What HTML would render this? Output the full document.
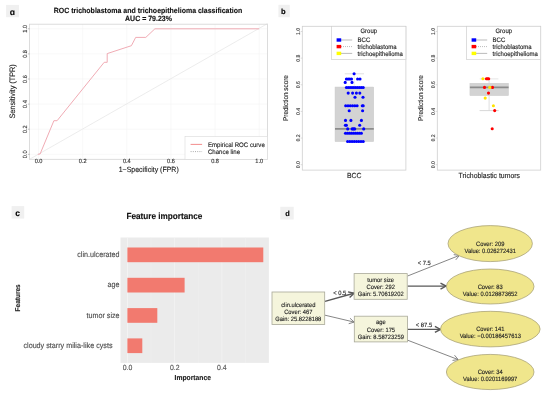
<!DOCTYPE html>
<html><head><meta charset="utf-8"><title>figure</title>
<style>
html,body{margin:0;padding:0;background:#fff;width:550px;height:397px;overflow:hidden;}
svg{display:block;font-family:"Liberation Sans",sans-serif;will-change:transform;text-rendering:geometricPrecision;}
</style></head>
<body>

<svg width="550" height="397" viewBox="0 0 550 397">

<rect width="550" height="397" fill="#fff"/>

<rect x="6.1" y="4.9" width="12.9" height="12.3" fill="#f0f0f0"/>
<text class="nk" x="12.4" y="14.6" font-size="8.6" font-weight="bold" text-anchor="middle" fill="#000" stroke="#000" stroke-width="0.12">ɑ</text>

<rect x="278.4" y="4.8" width="11.4" height="12.4" fill="#f0f0f0"/>
<text class="nk" x="283.3" y="13.8" font-size="7.6" font-weight="bold" text-anchor="middle" fill="#000" stroke="#000" stroke-width="0.12">b</text>

<rect x="11.6" y="206.1" width="12.6" height="12.5" fill="#f0f0f0"/>
<text class="nk" x="17.6" y="215.9" font-size="8.6" font-weight="bold" text-anchor="middle" fill="#000" stroke="#000" stroke-width="0.12">c</text>

<rect x="280.3" y="206.8" width="13.4" height="12.7" fill="#f0f0f0"/>
<text class="nk" x="287.5" y="215.8" font-size="7.4" font-weight="bold" text-anchor="middle" fill="#000" stroke="#000" stroke-width="0.12">d</text>

<g id="pa">
<text transform="translate(148,12.8) scale(1,1.08)" font-size="7" font-weight="bold" text-anchor="middle" fill="#111" stroke="#111" stroke-width="0.12">ROC trichoblastoma and trichoepithelioma classification</text>
<text transform="translate(148.5,21.3) scale(1,1.08)" font-size="7" font-weight="bold" text-anchor="middle" fill="#111" stroke="#111" stroke-width="0.12">AUC = 79.23%</text>
<line x1="38.60" y1="24.2" x2="38.60" y2="159.3" stroke="#f4f4f4" stroke-width="0.6"/>
<line x1="29.5" y1="154.30" x2="267.5" y2="154.30" stroke="#f4f4f4" stroke-width="0.6"/>
<line x1="82.72" y1="24.2" x2="82.72" y2="159.3" stroke="#f4f4f4" stroke-width="0.6"/>
<line x1="29.5" y1="129.20" x2="267.5" y2="129.20" stroke="#f4f4f4" stroke-width="0.6"/>
<line x1="126.84" y1="24.2" x2="126.84" y2="159.3" stroke="#f4f4f4" stroke-width="0.6"/>
<line x1="29.5" y1="104.10" x2="267.5" y2="104.10" stroke="#f4f4f4" stroke-width="0.6"/>
<line x1="170.96" y1="24.2" x2="170.96" y2="159.3" stroke="#f4f4f4" stroke-width="0.6"/>
<line x1="29.5" y1="79.00" x2="267.5" y2="79.00" stroke="#f4f4f4" stroke-width="0.6"/>
<line x1="215.08" y1="24.2" x2="215.08" y2="159.3" stroke="#f4f4f4" stroke-width="0.6"/>
<line x1="29.5" y1="53.90" x2="267.5" y2="53.90" stroke="#f4f4f4" stroke-width="0.6"/>
<line x1="259.20" y1="24.2" x2="259.20" y2="159.3" stroke="#f4f4f4" stroke-width="0.6"/>
<line x1="29.5" y1="28.80" x2="267.5" y2="28.80" stroke="#f4f4f4" stroke-width="0.6"/>
<line x1="29.5" y1="159.3" x2="267.5" y2="23.6" stroke="#eaeaea" stroke-width="0.9"/>
<polyline fill="none" stroke="#efa6b0" stroke-width="0.95" points="37.8,154.3 40.1,154.0 53.9,120.7 57.1,120.7 104.2,62.3 107.2,62.3 107.2,53.6 131.4,45.7 135.7,37.4 145.8,37.4 154.9,28.8 259.2,28.8"/>
<rect x="29.5" y="24.2" width="238" height="135.1" fill="none" stroke="#d4d4d4" stroke-width="0.8"/>
<rect x="185" y="136.5" width="82.5" height="22.8" fill="#fff" stroke="#d9d9d9" stroke-width="0.6"/>
<line x1="190.6" y1="144.4" x2="202.1" y2="144.4" stroke="#f08080" stroke-width="0.9"/>
<line x1="190.6" y1="151.6" x2="202.1" y2="151.6" stroke="#888" stroke-width="0.7" stroke-dasharray="1,1.2"/>
<text transform="translate(207.9,146.8) scale(1,1.08)" font-size="6.1" fill="#222" stroke="#222" stroke-width="0.12">Empirical ROC curve</text>
<text transform="translate(207.9,153.9) scale(1,1.08)" font-size="6.1" fill="#222" stroke="#222" stroke-width="0.12">Chance line</text>
<line x1="28.1" y1="154.30" x2="29.5" y2="154.30" stroke="#888" stroke-width="0.6"/>
<line x1="28.1" y1="129.20" x2="29.5" y2="129.20" stroke="#888" stroke-width="0.6"/>
<line x1="28.1" y1="104.10" x2="29.5" y2="104.10" stroke="#888" stroke-width="0.6"/>
<line x1="28.1" y1="79.00" x2="29.5" y2="79.00" stroke="#888" stroke-width="0.6"/>
<line x1="28.1" y1="53.90" x2="29.5" y2="53.90" stroke="#888" stroke-width="0.6"/>
<line x1="28.1" y1="28.80" x2="29.5" y2="28.80" stroke="#888" stroke-width="0.6"/>
<text transform="translate(38.60,163.4) scale(1,1.08)" font-size="5.6" text-anchor="middle" fill="#333" stroke="#333" stroke-width="0.12">0.0</text>
<text transform="translate(27.2,154.30) rotate(-90) scale(1,1.08)" font-size="5.6" text-anchor="middle" fill="#333" stroke="#333" stroke-width="0.12">0.0</text>
<text transform="translate(82.72,163.4) scale(1,1.08)" font-size="5.6" text-anchor="middle" fill="#333" stroke="#333" stroke-width="0.12">0.2</text>
<text transform="translate(27.2,129.20) rotate(-90) scale(1,1.08)" font-size="5.6" text-anchor="middle" fill="#333" stroke="#333" stroke-width="0.12">0.2</text>
<text transform="translate(126.84,163.4) scale(1,1.08)" font-size="5.6" text-anchor="middle" fill="#333" stroke="#333" stroke-width="0.12">0.4</text>
<text transform="translate(27.2,104.10) rotate(-90) scale(1,1.08)" font-size="5.6" text-anchor="middle" fill="#333" stroke="#333" stroke-width="0.12">0.4</text>
<text transform="translate(170.96,163.4) scale(1,1.08)" font-size="5.6" text-anchor="middle" fill="#333" stroke="#333" stroke-width="0.12">0.6</text>
<text transform="translate(27.2,79.00) rotate(-90) scale(1,1.08)" font-size="5.6" text-anchor="middle" fill="#333" stroke="#333" stroke-width="0.12">0.6</text>
<text transform="translate(215.08,163.4) scale(1,1.08)" font-size="5.6" text-anchor="middle" fill="#333" stroke="#333" stroke-width="0.12">0.8</text>
<text transform="translate(27.2,53.90) rotate(-90) scale(1,1.08)" font-size="5.6" text-anchor="middle" fill="#333" stroke="#333" stroke-width="0.12">0.8</text>
<text transform="translate(259.20,163.4) scale(1,1.08)" font-size="5.6" text-anchor="middle" fill="#333" stroke="#333" stroke-width="0.12">1.0</text>
<text transform="translate(27.2,28.80) rotate(-90) scale(1,1.08)" font-size="5.6" text-anchor="middle" fill="#333" stroke="#333" stroke-width="0.12">1.0</text>
<text transform="translate(148.7,172.2) scale(1,1.08)" font-size="7" text-anchor="middle" fill="#222" stroke="#222" stroke-width="0.12">1−Specificity (FPR)</text>
<text transform="translate(15.2,91.4) rotate(-90) scale(1,1.08)" font-size="7.3" text-anchor="middle" fill="#222" stroke="#222" stroke-width="0.12">Sensitivity (TPR)</text>
</g>

<rect x="302.3" y="26.3" width="103.6" height="143.8" fill="none" stroke="#cfcfcf" stroke-width="0.8"/>
<line x1="300.8" y1="164.70" x2="302.3" y2="164.70" stroke="#bbb" stroke-width="0.5"/>
<text transform="translate(300.1,164.70) rotate(-90) scale(1,1.08)" font-size="5.1" text-anchor="middle" fill="#444" stroke="#444" stroke-width="0.12">0.0</text>
<line x1="300.8" y1="138.06" x2="302.3" y2="138.06" stroke="#bbb" stroke-width="0.5"/>
<text transform="translate(300.1,138.06) rotate(-90) scale(1,1.08)" font-size="5.1" text-anchor="middle" fill="#444" stroke="#444" stroke-width="0.12">0.2</text>
<line x1="300.8" y1="111.42" x2="302.3" y2="111.42" stroke="#bbb" stroke-width="0.5"/>
<text transform="translate(300.1,111.42) rotate(-90) scale(1,1.08)" font-size="5.1" text-anchor="middle" fill="#444" stroke="#444" stroke-width="0.12">0.4</text>
<line x1="300.8" y1="84.78" x2="302.3" y2="84.78" stroke="#bbb" stroke-width="0.5"/>
<text transform="translate(300.1,84.78) rotate(-90) scale(1,1.08)" font-size="5.1" text-anchor="middle" fill="#444" stroke="#444" stroke-width="0.12">0.6</text>
<line x1="300.8" y1="58.14" x2="302.3" y2="58.14" stroke="#bbb" stroke-width="0.5"/>
<text transform="translate(300.1,58.14) rotate(-90) scale(1,1.08)" font-size="5.1" text-anchor="middle" fill="#444" stroke="#444" stroke-width="0.12">0.8</text>
<line x1="300.8" y1="31.50" x2="302.3" y2="31.50" stroke="#bbb" stroke-width="0.5"/>
<text transform="translate(300.1,31.50) rotate(-90) scale(1,1.08)" font-size="5.1" text-anchor="middle" fill="#444" stroke="#444" stroke-width="0.12">1.0</text>
<text transform="translate(287.9,98) rotate(-90) scale(1,1.08)" font-size="6.4" text-anchor="middle" fill="#222" stroke="#222" stroke-width="0.12">Prediction score</text>
<text transform="translate(354.3,177.8) scale(1,1.08)" font-size="6.9" text-anchor="middle" fill="#222" stroke="#222" stroke-width="0.12">BCC</text>
<rect x="331.5" y="26.3" width="74.4" height="33.3" fill="#fff" stroke="#cfcfcf" stroke-width="0.7"/>
<text transform="translate(368.8,33.4) scale(1,1.08)" font-size="6" text-anchor="middle" fill="#222" stroke="#222" stroke-width="0.12">Group</text>
<line x1="341" y1="40" x2="352.2" y2="40" stroke="#aaa" stroke-width="0.8"/>
<rect x="336.6" y="38.3" width="4.6" height="3.4" fill="#0000ff"/>
<text transform="translate(357.6,42.1) scale(1,1.08)" font-size="6" fill="#222" stroke="#222" stroke-width="0.12">BCC</text>
<line x1="341" y1="46.6" x2="352.2" y2="46.6" stroke="#aaa" stroke-width="0.8" stroke-dasharray="1,1"/>
<rect x="336.6" y="44.9" width="4.6" height="3.4" fill="#ff0000"/>
<text transform="translate(357.6,48.7) scale(1,1.08)" font-size="6" fill="#222" stroke="#222" stroke-width="0.12">trichoblastoma</text>
<line x1="341" y1="53.4" x2="352.2" y2="53.4" stroke="#aaa" stroke-width="0.8"/>
<rect x="336.6" y="51.699999999999996" width="4.6" height="3.4" fill="#ffff00"/>
<text transform="translate(357.6,55.5) scale(1,1.08)" font-size="6" fill="#222" stroke="#222" stroke-width="0.12">trichoepithelioma</text>
<rect x="437.3" y="26.3" width="103.4" height="143.8" fill="none" stroke="#cfcfcf" stroke-width="0.8"/>
<line x1="435.8" y1="164.70" x2="437.3" y2="164.70" stroke="#bbb" stroke-width="0.5"/>
<text transform="translate(435.1,164.70) rotate(-90) scale(1,1.08)" font-size="5.1" text-anchor="middle" fill="#444" stroke="#444" stroke-width="0.12">0.0</text>
<line x1="435.8" y1="138.06" x2="437.3" y2="138.06" stroke="#bbb" stroke-width="0.5"/>
<text transform="translate(435.1,138.06) rotate(-90) scale(1,1.08)" font-size="5.1" text-anchor="middle" fill="#444" stroke="#444" stroke-width="0.12">0.2</text>
<line x1="435.8" y1="111.42" x2="437.3" y2="111.42" stroke="#bbb" stroke-width="0.5"/>
<text transform="translate(435.1,111.42) rotate(-90) scale(1,1.08)" font-size="5.1" text-anchor="middle" fill="#444" stroke="#444" stroke-width="0.12">0.4</text>
<line x1="435.8" y1="84.78" x2="437.3" y2="84.78" stroke="#bbb" stroke-width="0.5"/>
<text transform="translate(435.1,84.78) rotate(-90) scale(1,1.08)" font-size="5.1" text-anchor="middle" fill="#444" stroke="#444" stroke-width="0.12">0.6</text>
<line x1="435.8" y1="58.14" x2="437.3" y2="58.14" stroke="#bbb" stroke-width="0.5"/>
<text transform="translate(435.1,58.14) rotate(-90) scale(1,1.08)" font-size="5.1" text-anchor="middle" fill="#444" stroke="#444" stroke-width="0.12">0.8</text>
<line x1="435.8" y1="31.50" x2="437.3" y2="31.50" stroke="#bbb" stroke-width="0.5"/>
<text transform="translate(435.1,31.50) rotate(-90) scale(1,1.08)" font-size="5.1" text-anchor="middle" fill="#444" stroke="#444" stroke-width="0.12">1.0</text>
<text transform="translate(422.9,98) rotate(-90) scale(1,1.08)" font-size="6.4" text-anchor="middle" fill="#222" stroke="#222" stroke-width="0.12">Prediction score</text>
<text transform="translate(489.3,177.8) scale(1,1.08)" font-size="6.9" text-anchor="middle" fill="#222" stroke="#222" stroke-width="0.12">Trichoblastic tumors</text>
<rect x="466.5" y="26.3" width="74.2" height="33.3" fill="#fff" stroke="#cfcfcf" stroke-width="0.7"/>
<text transform="translate(503.8,33.4) scale(1,1.08)" font-size="6" text-anchor="middle" fill="#222" stroke="#222" stroke-width="0.12">Group</text>
<line x1="476" y1="40" x2="487.2" y2="40" stroke="#aaa" stroke-width="0.8"/>
<rect x="471.6" y="38.3" width="4.6" height="3.4" fill="#0000ff"/>
<text transform="translate(492.6,42.1) scale(1,1.08)" font-size="6" fill="#222" stroke="#222" stroke-width="0.12">BCC</text>
<line x1="476" y1="46.6" x2="487.2" y2="46.6" stroke="#aaa" stroke-width="0.8" stroke-dasharray="1,1"/>
<rect x="471.6" y="44.9" width="4.6" height="3.4" fill="#ff0000"/>
<text transform="translate(492.6,48.7) scale(1,1.08)" font-size="6" fill="#222" stroke="#222" stroke-width="0.12">trichoblastoma</text>
<line x1="476" y1="53.4" x2="487.2" y2="53.4" stroke="#aaa" stroke-width="0.8"/>
<rect x="471.6" y="51.699999999999996" width="4.6" height="3.4" fill="#ffff00"/>
<text transform="translate(492.6,55.5) scale(1,1.08)" font-size="6" fill="#222" stroke="#222" stroke-width="0.12">trichoepithelioma</text>
<line x1="354.3" y1="73.8" x2="354.3" y2="87" stroke="#e4e4e4" stroke-width="0.6"/>
<line x1="344.8" y1="73.8" x2="364" y2="73.8" stroke="#ddd" stroke-width="0.9"/>
<rect x="335" y="87" width="38.8" height="54.7" fill="#d3d3d3" stroke="#cacaca" stroke-width="0.4"/>
<line x1="335" y1="128.9" x2="373.8" y2="128.9" stroke="#8c8c8c" stroke-width="1.6"/>
<circle cx="354.10" cy="73.8" r="1.55" fill="#0000ff"/>
<circle cx="346.40" cy="79" r="1.55" fill="#0000ff"/>
<circle cx="348.10" cy="79" r="1.55" fill="#0000ff"/>
<circle cx="349.80" cy="79" r="1.55" fill="#0000ff"/>
<circle cx="351.50" cy="79" r="1.55" fill="#0000ff"/>
<circle cx="357.60" cy="79" r="1.55" fill="#0000ff"/>
<circle cx="360.00" cy="79" r="1.55" fill="#0000ff"/>
<circle cx="345.20" cy="82.4" r="1.55" fill="#0000ff"/>
<circle cx="352.00" cy="82.4" r="1.55" fill="#0000ff"/>
<circle cx="346.40" cy="87.5" r="1.55" fill="#0000ff"/>
<circle cx="348.27" cy="87.5" r="1.55" fill="#0000ff"/>
<circle cx="350.13" cy="87.5" r="1.55" fill="#0000ff"/>
<circle cx="352.00" cy="87.5" r="1.55" fill="#0000ff"/>
<circle cx="353.87" cy="87.5" r="1.55" fill="#0000ff"/>
<circle cx="355.73" cy="87.5" r="1.55" fill="#0000ff"/>
<circle cx="357.60" cy="87.5" r="1.55" fill="#0000ff"/>
<circle cx="359.47" cy="87.5" r="1.55" fill="#0000ff"/>
<circle cx="361.33" cy="87.5" r="1.55" fill="#0000ff"/>
<circle cx="363.20" cy="87.5" r="1.55" fill="#0000ff"/>
<circle cx="348.20" cy="93.1" r="1.55" fill="#0000ff"/>
<circle cx="352.60" cy="93.1" r="1.55" fill="#0000ff"/>
<circle cx="356.40" cy="93.1" r="1.55" fill="#0000ff"/>
<circle cx="359.80" cy="93.1" r="1.55" fill="#0000ff"/>
<circle cx="355.00" cy="97.3" r="1.55" fill="#0000ff"/>
<circle cx="363.00" cy="97.3" r="1.55" fill="#0000ff"/>
<circle cx="345.70" cy="105.8" r="1.55" fill="#0000ff"/>
<circle cx="347.98" cy="105.8" r="1.55" fill="#0000ff"/>
<circle cx="350.26" cy="105.8" r="1.55" fill="#0000ff"/>
<circle cx="352.54" cy="105.8" r="1.55" fill="#0000ff"/>
<circle cx="354.82" cy="105.8" r="1.55" fill="#0000ff"/>
<circle cx="357.10" cy="105.8" r="1.55" fill="#0000ff"/>
<circle cx="362.30" cy="105.8" r="1.55" fill="#0000ff"/>
<circle cx="363.20" cy="105.8" r="1.55" fill="#0000ff"/>
<circle cx="349.20" cy="110.7" r="1.55" fill="#0000ff"/>
<circle cx="362.60" cy="110.7" r="1.55" fill="#0000ff"/>
<circle cx="345.50" cy="120.4" r="1.55" fill="#0000ff"/>
<circle cx="350.90" cy="120.4" r="1.55" fill="#0000ff"/>
<circle cx="361.40" cy="120.4" r="1.55" fill="#0000ff"/>
<circle cx="345.40" cy="125.2" r="1.55" fill="#0000ff"/>
<circle cx="346.40" cy="125.2" r="1.55" fill="#0000ff"/>
<circle cx="359.70" cy="125.2" r="1.55" fill="#0000ff"/>
<circle cx="347.70" cy="128.9" r="1.55" fill="#0000ff"/>
<circle cx="352.20" cy="128.9" r="1.55" fill="#0000ff"/>
<circle cx="353.50" cy="128.9" r="1.55" fill="#0000ff"/>
<circle cx="354.70" cy="128.9" r="1.55" fill="#0000ff"/>
<circle cx="363.70" cy="128.9" r="1.55" fill="#0000ff"/>
<circle cx="345.50" cy="133.2" r="1.55" fill="#0000ff"/>
<circle cx="347.49" cy="133.2" r="1.55" fill="#0000ff"/>
<circle cx="349.48" cy="133.2" r="1.55" fill="#0000ff"/>
<circle cx="351.46" cy="133.2" r="1.55" fill="#0000ff"/>
<circle cx="353.45" cy="133.2" r="1.55" fill="#0000ff"/>
<circle cx="355.44" cy="133.2" r="1.55" fill="#0000ff"/>
<circle cx="357.42" cy="133.2" r="1.55" fill="#0000ff"/>
<circle cx="359.41" cy="133.2" r="1.55" fill="#0000ff"/>
<circle cx="361.40" cy="133.2" r="1.55" fill="#0000ff"/>
<circle cx="347.60" cy="141.5" r="1.55" fill="#0000ff"/>
<circle cx="349.83" cy="141.5" r="1.55" fill="#0000ff"/>
<circle cx="352.06" cy="141.5" r="1.55" fill="#0000ff"/>
<circle cx="354.29" cy="141.5" r="1.55" fill="#0000ff"/>
<circle cx="356.51" cy="141.5" r="1.55" fill="#0000ff"/>
<circle cx="358.74" cy="141.5" r="1.55" fill="#0000ff"/>
<circle cx="360.97" cy="141.5" r="1.55" fill="#0000ff"/>
<circle cx="363.20" cy="141.5" r="1.55" fill="#0000ff"/>
<line x1="489.1" y1="78.9" x2="489.1" y2="110.6" stroke="#d8d8d8" stroke-width="0.8"/>
<line x1="479.7" y1="78.9" x2="498.4" y2="78.9" stroke="#e2e2e2" stroke-width="0.9"/>
<line x1="479.6" y1="110.6" x2="498.7" y2="110.6" stroke="#d2d2d2" stroke-width="0.9"/>
<rect x="469.9" y="83.2" width="38.7" height="12.5" fill="#d3d3d3" stroke="#cacaca" stroke-width="0.4"/>
<line x1="469.9" y1="87.4" x2="508.6" y2="87.4" stroke="#8c8c8c" stroke-width="1.6"/>
<circle cx="482.90" cy="78.8" r="1.55" fill="#ffe400"/>
<circle cx="486.40" cy="78.8" r="1.55" fill="#ff0000"/>
<circle cx="487.60" cy="78.8" r="1.55" fill="#ff0000"/>
<circle cx="488.70" cy="78.8" r="1.55" fill="#ff0000"/>
<circle cx="484.50" cy="87.4" r="1.55" fill="#ff0000"/>
<circle cx="492.50" cy="87.4" r="1.55" fill="#ff0000"/>
<circle cx="489.80" cy="87.4" r="1.55" fill="#ffe400"/>
<circle cx="488.50" cy="93.1" r="1.55" fill="#ff0000"/>
<circle cx="485.20" cy="98.1" r="1.55" fill="#ffe400"/>
<circle cx="493.40" cy="105.8" r="1.55" fill="#ffe400"/>
<circle cx="494.70" cy="110.6" r="1.55" fill="#ff0000"/>
<circle cx="492.20" cy="128.8" r="1.55" fill="#ff0000"/>
<g id="pc">
<text transform="translate(126.4,218.9) scale(1,1.08)" font-size="8.2" font-weight="bold" fill="#111" stroke="#111" stroke-width="0.12">Feature importance</text>
<rect x="120.5" y="237.5" width="148.4" height="125.4" fill="#ebebeb"/>
<line x1="151.10" y1="237.6" x2="151.10" y2="362.9" stroke="#f2f2f2" stroke-width="0.4"/>
<line x1="198.30" y1="237.6" x2="198.30" y2="362.9" stroke="#f2f2f2" stroke-width="0.4"/>
<line x1="245.50" y1="237.6" x2="245.50" y2="362.9" stroke="#f2f2f2" stroke-width="0.4"/>
<line x1="127.50" y1="237.6" x2="127.50" y2="362.9" stroke="#f7f7f7" stroke-width="0.7"/>
<line x1="174.70" y1="237.6" x2="174.70" y2="362.9" stroke="#f7f7f7" stroke-width="0.7"/>
<line x1="221.90" y1="237.6" x2="221.90" y2="362.9" stroke="#f7f7f7" stroke-width="0.7"/>
<rect x="127.4" y="247.50" width="135.89" height="14.7" fill="#f27a6f"/>
<text transform="translate(119.6,256.9) scale(1,1.08)" font-size="7.2" text-anchor="end" fill="#4d4d4d" stroke="#4d4d4d" stroke-width="0.12">clin.ulcerated</text>
<rect x="127.4" y="277.80" width="57.21" height="14.7" fill="#f27a6f"/>
<text transform="translate(119.6,287.2) scale(1,1.08)" font-size="7.2" text-anchor="end" fill="#4d4d4d" stroke="#4d4d4d" stroke-width="0.12">age</text>
<rect x="127.4" y="308.10" width="29.91" height="14.7" fill="#f27a6f"/>
<text transform="translate(119.6,317.5) scale(1,1.08)" font-size="7.2" text-anchor="end" fill="#4d4d4d" stroke="#4d4d4d" stroke-width="0.12">tumor size</text>
<rect x="127.4" y="338.40" width="14.90" height="14.7" fill="#f27a6f"/>
<text transform="translate(112.5,347.8) scale(1,1.08)" font-size="7.2" text-anchor="end" fill="#4d4d4d" stroke="#4d4d4d" stroke-width="0.12">cloudy starry milia-like cysts</text>
<text transform="translate(127.50,369.5) scale(1,1.08)" font-size="6.9" text-anchor="middle" fill="#555" stroke="#555" stroke-width="0.12">0.0</text>
<text transform="translate(174.70,369.5) scale(1,1.08)" font-size="6.9" text-anchor="middle" fill="#555" stroke="#555" stroke-width="0.12">0.2</text>
<text transform="translate(221.90,369.5) scale(1,1.08)" font-size="6.9" text-anchor="middle" fill="#555" stroke="#555" stroke-width="0.12">0.4</text>
<text transform="translate(192.8,379.5) scale(1,1.08)" font-size="6.75" font-weight="bold" text-anchor="middle" fill="#222" stroke="#222" stroke-width="0.12">Importance</text>
<text transform="translate(19.5,297.9) rotate(-90) scale(1,1.08)" font-size="6.5" font-weight="bold" text-anchor="middle" fill="#222" stroke="#222" stroke-width="0.12">Features</text>
</g>

<g id="pd">
<line x1="325" y1="301.4" x2="353.91" y2="293.28" stroke="#585858" stroke-width="1.4"/>
<polyline fill="none" stroke="#585858" stroke-width="1.4" stroke-linejoin="miter" points="349.62,297.60 354.20,293.20 348.00,291.83"/>
<line x1="325" y1="315.2" x2="353.91" y2="322.03" stroke="#707070" stroke-width="0.85"/>
<polyline fill="none" stroke="#707070" stroke-width="0.85" stroke-linejoin="miter" points="348.69,323.68 354.20,322.10 349.98,318.23"/>
<line x1="407.6" y1="276" x2="459.12" y2="255.51" stroke="#707070" stroke-width="0.85"/>
<polyline fill="none" stroke="#707070" stroke-width="0.85" stroke-linejoin="miter" points="455.79,259.85 459.40,255.40 453.72,254.65"/>
<line x1="407.6" y1="286.1" x2="445.80" y2="286.10" stroke="#585858" stroke-width="1.4"/>
<polyline fill="none" stroke="#585858" stroke-width="1.4" stroke-linejoin="miter" points="440.50,289.10 446.10,286.10 440.50,283.10"/>
<line x1="407.6" y1="329.4" x2="440.20" y2="329.40" stroke="#585858" stroke-width="1.4"/>
<polyline fill="none" stroke="#585858" stroke-width="1.4" stroke-linejoin="miter" points="434.90,332.40 440.50,329.40 434.90,326.40"/>
<line x1="407.6" y1="340.2" x2="457.92" y2="359.49" stroke="#707070" stroke-width="0.85"/>
<polyline fill="none" stroke="#707070" stroke-width="0.85" stroke-linejoin="miter" points="452.53,360.42 458.20,359.60 454.53,355.20"/>
<rect x="272" y="292" width="52.7" height="32.5" fill="#f5f5dc" stroke="#a8a898" stroke-width="0.8"/>
<text transform="translate(298.3,306.75) scale(1,1.08)" font-size="5.8" text-anchor="middle" fill="#222" stroke="#222" stroke-width="0.12">clin.ulcerated</text>
<text transform="translate(298.3,313.85) scale(1,1.08)" font-size="5.8" text-anchor="middle" fill="#222" stroke="#222" stroke-width="0.12">Cover: 467</text>
<text transform="translate(298.3,320.85) scale(1,1.08)" font-size="5.8" text-anchor="middle" fill="#222" stroke="#222" stroke-width="0.12">Gain: 25.8228188</text>
<rect x="354.1" y="273.6" width="53.1" height="25.7" fill="#f5f5dc" stroke="#a8a898" stroke-width="0.8"/>
<text transform="translate(380.7,281.55) scale(1,1.08)" font-size="5.8" text-anchor="middle" fill="#222" stroke="#222" stroke-width="0.12">tumor size</text>
<text transform="translate(380.7,288.85) scale(1,1.08)" font-size="5.8" text-anchor="middle" fill="#222" stroke="#222" stroke-width="0.12">Cover: 292</text>
<text transform="translate(380.7,296.05) scale(1,1.08)" font-size="5.8" text-anchor="middle" fill="#222" stroke="#222" stroke-width="0.12">Gain: 5.70619202</text>
<rect x="354.3" y="316.2" width="53.2" height="25.7" fill="#f5f5dc" stroke="#a8a898" stroke-width="0.8"/>
<text transform="translate(380.9,324.35) scale(1,1.08)" font-size="5.8" text-anchor="middle" fill="#222" stroke="#222" stroke-width="0.12">age</text>
<text transform="translate(380.9,331.65) scale(1,1.08)" font-size="5.8" text-anchor="middle" fill="#222" stroke="#222" stroke-width="0.12">Cover: 175</text>
<text transform="translate(380.9,338.65) scale(1,1.08)" font-size="5.8" text-anchor="middle" fill="#222" stroke="#222" stroke-width="0.12">Gain: 8.58723259</text>
<ellipse cx="490.2" cy="243.6" rx="42.2" ry="18" fill="#f0e68c" stroke="#a09a70" stroke-width="0.7"/>
<text transform="translate(490.2,246.40) scale(1,1.08)" font-size="5.8" text-anchor="middle" fill="#222" stroke="#222" stroke-width="0.12">Cover: 209</text>
<text transform="translate(490.2,253.40) scale(1,1.08)" font-size="5.8" text-anchor="middle" fill="#222" stroke="#222" stroke-width="0.12">Value: 0.026272431</text>
<ellipse cx="490.2" cy="286.5" rx="43.8" ry="17.5" fill="#f0e68c" stroke="#a09a70" stroke-width="0.7"/>
<text transform="translate(490.2,288.80) scale(1,1.08)" font-size="5.8" text-anchor="middle" fill="#222" stroke="#222" stroke-width="0.12">Cover: 83</text>
<text transform="translate(490.2,295.80) scale(1,1.08)" font-size="5.8" text-anchor="middle" fill="#222" stroke="#222" stroke-width="0.12">Value: 0.0128873652</text>
<ellipse cx="490.3" cy="329.1" rx="49.8" ry="17.8" fill="#f0e68c" stroke="#a09a70" stroke-width="0.7"/>
<text transform="translate(490.3,331.30) scale(1,1.08)" font-size="5.8" text-anchor="middle" fill="#222" stroke="#222" stroke-width="0.12">Cover: 141</text>
<text transform="translate(490.3,338.30) scale(1,1.08)" font-size="5.8" text-anchor="middle" fill="#222" stroke="#222" stroke-width="0.12">Value: −0.00186457613</text>
<ellipse cx="490.2" cy="372" rx="43.8" ry="17.6" fill="#f0e68c" stroke="#a09a70" stroke-width="0.7"/>
<text transform="translate(490.2,373.80) scale(1,1.08)" font-size="5.8" text-anchor="middle" fill="#222" stroke="#222" stroke-width="0.12">Cover: 34</text>
<text transform="translate(490.2,380.80) scale(1,1.08)" font-size="5.8" text-anchor="middle" fill="#222" stroke="#222" stroke-width="0.12">Value: 0.0201169997</text>
<text transform="translate(339.7,294.5) scale(1,1.08)" font-size="5.8" text-anchor="middle" fill="#222" stroke="#222" stroke-width="0.12">&lt; 0.5</text>
<text transform="translate(424.2,264.5) scale(1,1.08)" font-size="5.8" text-anchor="middle" fill="#222" stroke="#222" stroke-width="0.12">&lt; 7.5</text>
<text transform="translate(424,327.4) scale(1,1.08)" font-size="5.8" text-anchor="middle" fill="#222" stroke="#222" stroke-width="0.12">&lt; 87.5</text>
</g>

</svg>
</body></html>
